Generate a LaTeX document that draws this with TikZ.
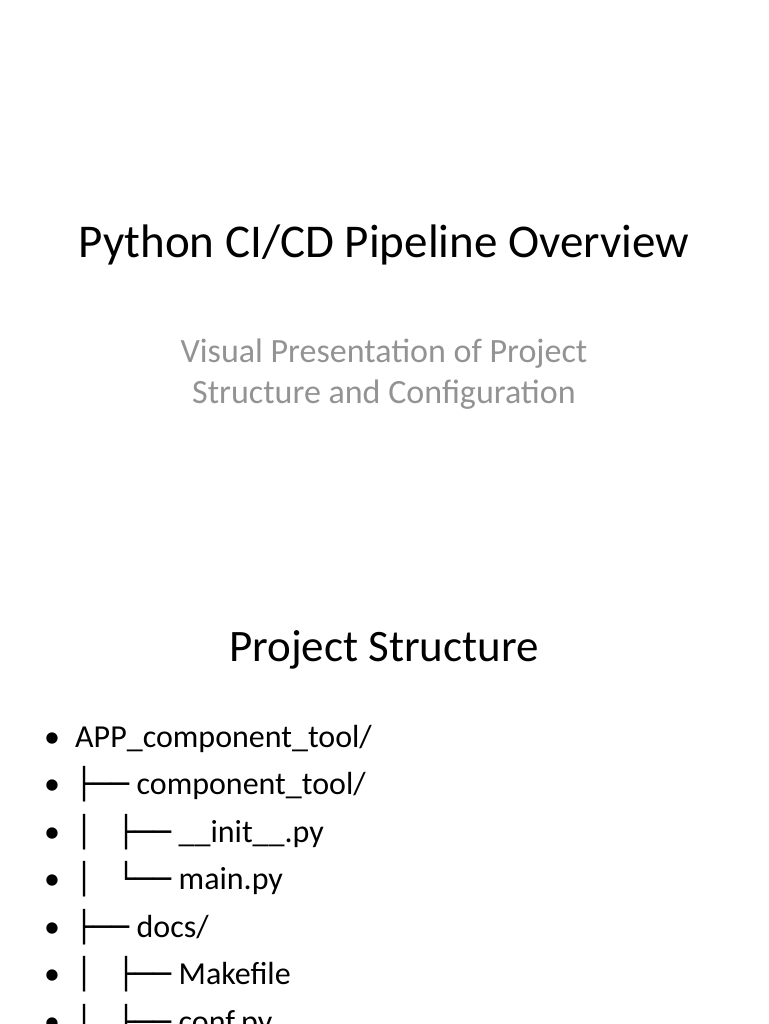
\documentclass[tikz,border=0pt]{standalone}
\usepackage{fontspec}
\setmainfont{Carlito}
\newfontfamily\djfont{DejaVu Sans}
\begin{document}
\begin{tikzpicture}[x=1pt,y=-1pt,
  bul/.style={anchor=base west,font=\fontsize{32}{38}\selectfont,inner sep=0pt}]
\useasboundingbox (0,0) rectangle (768,1024);
\clip (0,0) rectangle (768,1024);
\node (title) at (384,245) [font=\fontsize{47}{56}\selectfont] {Python CI/CD Pipeline Overview};
\node (sub) at (384,374) [font=\fontsize{34}{41}\selectfont,text=gray!85,align=center] {Visual Presentation of Project\\Structure and Configuration};
\node (h2) at (384,650) [font=\fontsize{45}{54}\selectfont] {Project Structure};
\foreach \t [count=\i] in {
 {APP\_component\_tool/},
 {{\djfont\fontsize{30}{36}\selectfont ├──} component\_tool/},
 {{\djfont\fontsize{30}{36}\selectfont │\hspace{0.8em}├──} \_\_init\_\_.py},
 {{\djfont\fontsize{30}{36}\selectfont │\hspace{0.8em}└──} main.py},
 {{\djfont\fontsize{30}{36}\selectfont ├──} docs/},
 {{\djfont\fontsize{30}{36}\selectfont │\hspace{0.8em}├──} Makefile},
 {{\djfont\fontsize{30}{36}\selectfont │\hspace{0.8em}├──} conf.py}} {
  \node[bul] (b\i) at (44,{747+(\i-1)*47.5}) {•};
  \node[bul] (t\i) at (75,{747+(\i-1)*47.5}) {\t};
}
\end{tikzpicture}
\end{document}
